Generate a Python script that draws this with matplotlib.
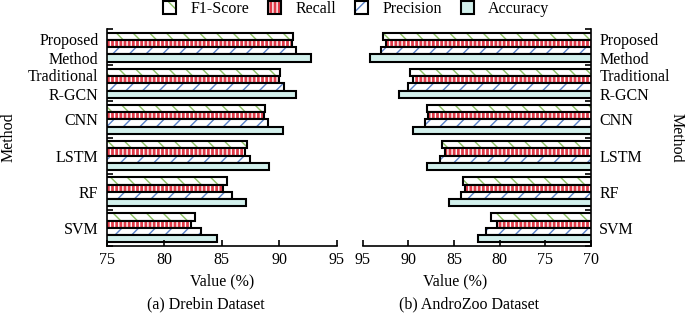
import matplotlib
matplotlib.use('Agg')
import matplotlib.pyplot as plt
import numpy as np

methods = ['Proposed\nMethod', 'Traditional\nR-GCN', 'CNN', 'LSTM', 'RF', 'SVM']
metrics = ['F1-Score', 'Recall', 'Precision', 'Accuracy']

# Drebin dataset (%), one list per metric, same order as methods
drebin_f1 = [91.2, 90.1, 88.8, 87.2, 85.5, 82.7]
drebin_recall = [91.1, 90.0, 88.7, 87.0, 85.1, 82.3]
drebin_precision = [91.5, 90.4, 89.0, 87.5, 85.9, 83.2]
drebin_accuracy = [92.8, 91.5, 90.3, 89.1, 87.1, 84.6]

# AndroZoo dataset (%)
andro_f1 = [92.8, 89.8, 88.0, 86.3, 84.0, 80.9]
andro_recall = [92.5, 89.5, 87.8, 86.0, 83.8, 80.3]
andro_precision = [93.0, 90.0, 88.2, 86.5, 84.2, 81.5]
andro_accuracy = [94.2, 91.0, 89.5, 88.0, 85.6, 82.4]

plt.rcParams['font.family'] = ['Liberation Serif', 'DejaVu Serif']
plt.rcParams['font.size'] = 11.5
plt.rcParams['hatch.linewidth'] = 1.0

# face colour, hatch, hatch colour
styles = [
    ('white', '\\\\', '#8cc063'),
    ('#e03a48', '||||', 'white'),
    ('white', '//', '#5a82c8'),
    ('#d2f0ec', '', 'none'),
]
offsets = [0.3, 0.1, -0.1, -0.3]
bar_h = 0.2

fig = plt.figure(figsize=(6.85, 3.13), dpi=100)
ax1 = fig.add_axes([0.1558, 0.214, 0.3358, 0.693])
ax2 = fig.add_axes([0.5295, 0.214, 0.3333, 0.693])

centers = 5.5 - np.arange(len(methods))


def draw(ax, series):
    handles = []
    for vals, off, (fc, hatch, hc) in zip(series, offsets, styles):
        # hatch layer (hatch takes the edge colour), then black outline on top
        fill = ax.barh(centers + off, vals, height=bar_h, color=fc,
                       edgecolor=hc, linewidth=0, hatch=hatch)
        edge = ax.barh(centers + off, vals, height=bar_h, color='none',
                       edgecolor='black', linewidth=1.5)
        handles.append((fill, edge))
    ax.set_ylim(0, 6)
    ax.set_yticks(np.arange(0, 7))
    ax.set_yticklabels([])
    ax.set_yticks(centers, methods, minor=True)
    ax.tick_params(axis='y', which='major', direction='in', length=4, width=1.2)
    ax.tick_params(axis='y', which='minor', length=0, pad=6)
    ax.tick_params(axis='x', direction='in', length=4, width=1.2, pad=4)
    for s in ax.spines.values():
        s.set_linewidth(1.2)
    return handles


handles = draw(ax1, [drebin_f1, drebin_recall, drebin_precision, drebin_accuracy])
draw(ax2, [andro_f1, andro_recall, andro_precision, andro_accuracy])

ax1.set_xlim(75, 95)
ax1.set_xticks([75, 80, 85, 90, 95])
ax1.spines['top'].set_visible(False)
ax1.spines['right'].set_visible(False)

ax2.set_xlim(95, 70)
ax2.set_xticks([95, 90, 85, 80, 75, 70])
ax2.spines['top'].set_visible(False)
ax2.spines['left'].set_visible(False)
ax2.yaxis.tick_right()
for lab in ax2.get_yticklabels(minor=True):
    lab.set_horizontalalignment('left')

fig.text(9 / 685, 1 - 137 / 313, 'Method', rotation=90, ha='center', va='center')
fig.text(677 / 685, 1 - 138 / 313, 'Method', rotation=270, ha='center', va='center')
fig.text(222 / 685, 1 - 281 / 313, 'Value (%)', ha='center', va='center')
fig.text(206 / 685, 1 - 304 / 313, '(a) Drebin Dataset', ha='center', va='center')
fig.text(455 / 685, 1 - 281 / 313, 'Value (%)', ha='center', va='center')
fig.text(469 / 685, 1 - 304 / 313, '(b) AndroZoo Dataset', ha='center', va='center')

fig.legend(handles, metrics, loc='center', bbox_to_anchor=(0.52, 1 - 9 / 313),
           ncol=4, frameon=False, handlelength=0.8, handleheight=0.8,
           handletextpad=0.9, columnspacing=1.2, borderpad=0)

fig.savefig('out.png', dpi=100)
